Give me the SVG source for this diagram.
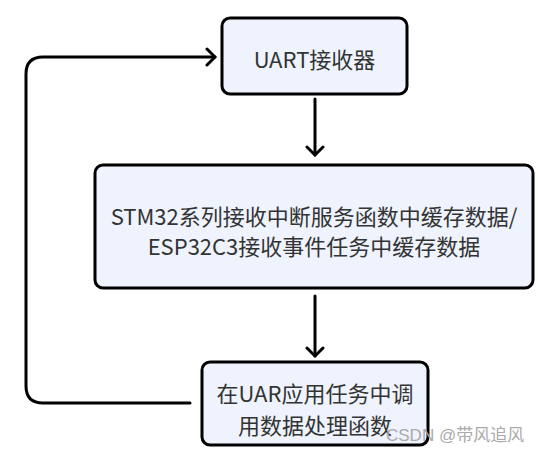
<svg xmlns="http://www.w3.org/2000/svg" width="538" height="453" viewBox="0 0 538 453">
<defs>
<style>
.box{fill:#eef3fd;stroke:#000;stroke-width:3}
.lbl{font-family:"Noto Sans CJK SC","Noto Sans",sans-serif;font-size:22px;fill:#333;text-anchor:middle;dominant-baseline:central}
.conn{fill:none;stroke:#000;stroke-width:3;stroke-linecap:round;stroke-linejoin:round}
.wm{font-family:"Liberation Sans","Noto Sans CJK SC",sans-serif;font-size:17px;fill:#aaa}
</style>
<marker id="ah" viewBox="0 0 12 20" refX="10" refY="10" markerWidth="12" markerHeight="20" markerUnits="userSpaceOnUse" orient="auto">
<path d="M2 2 L10 10 L2 18" fill="none" stroke="#000" stroke-width="3" stroke-linecap="round" stroke-linejoin="round"/>
</marker>
</defs>
<rect width="538" height="453" fill="#fff"/>
<g id="connectors">
<path class="conn" d="M315 99 V155" marker-end="url(#ah)"/>
<path class="conn" d="M315 296 V356" marker-end="url(#ah)"/>
<path class="conn" d="M190 403 H43 Q26 403 26 386 V74 Q26 57 43 57 H215" marker-end="url(#ah)"/>
</g>
<g id="n1">
<rect class="box" x="222" y="18" width="185" height="76" rx="8"/>
<text class="lbl" x="314.5" y="58">UART接收器</text>
</g>
<g id="n2">
<rect class="box" x="95" y="165" width="438" height="123" rx="8"/>
<text class="lbl" x="314" y="215">STM32系列接收中断服务函数中缓存数据/</text>
<text class="lbl" x="314" y="245">ESP32C3接收事件任务中缓存数据</text>
</g>
<g id="n3">
<rect class="box" x="202" y="362" width="226" height="83" rx="8"/>
<text class="lbl" x="315" y="392">在UAR应用任务中调</text>
<text class="lbl" x="315" y="424">用数据处理函数</text>
</g>
<text class="wm" x="386" y="441">CSDN @带风追风</text>
</svg>
